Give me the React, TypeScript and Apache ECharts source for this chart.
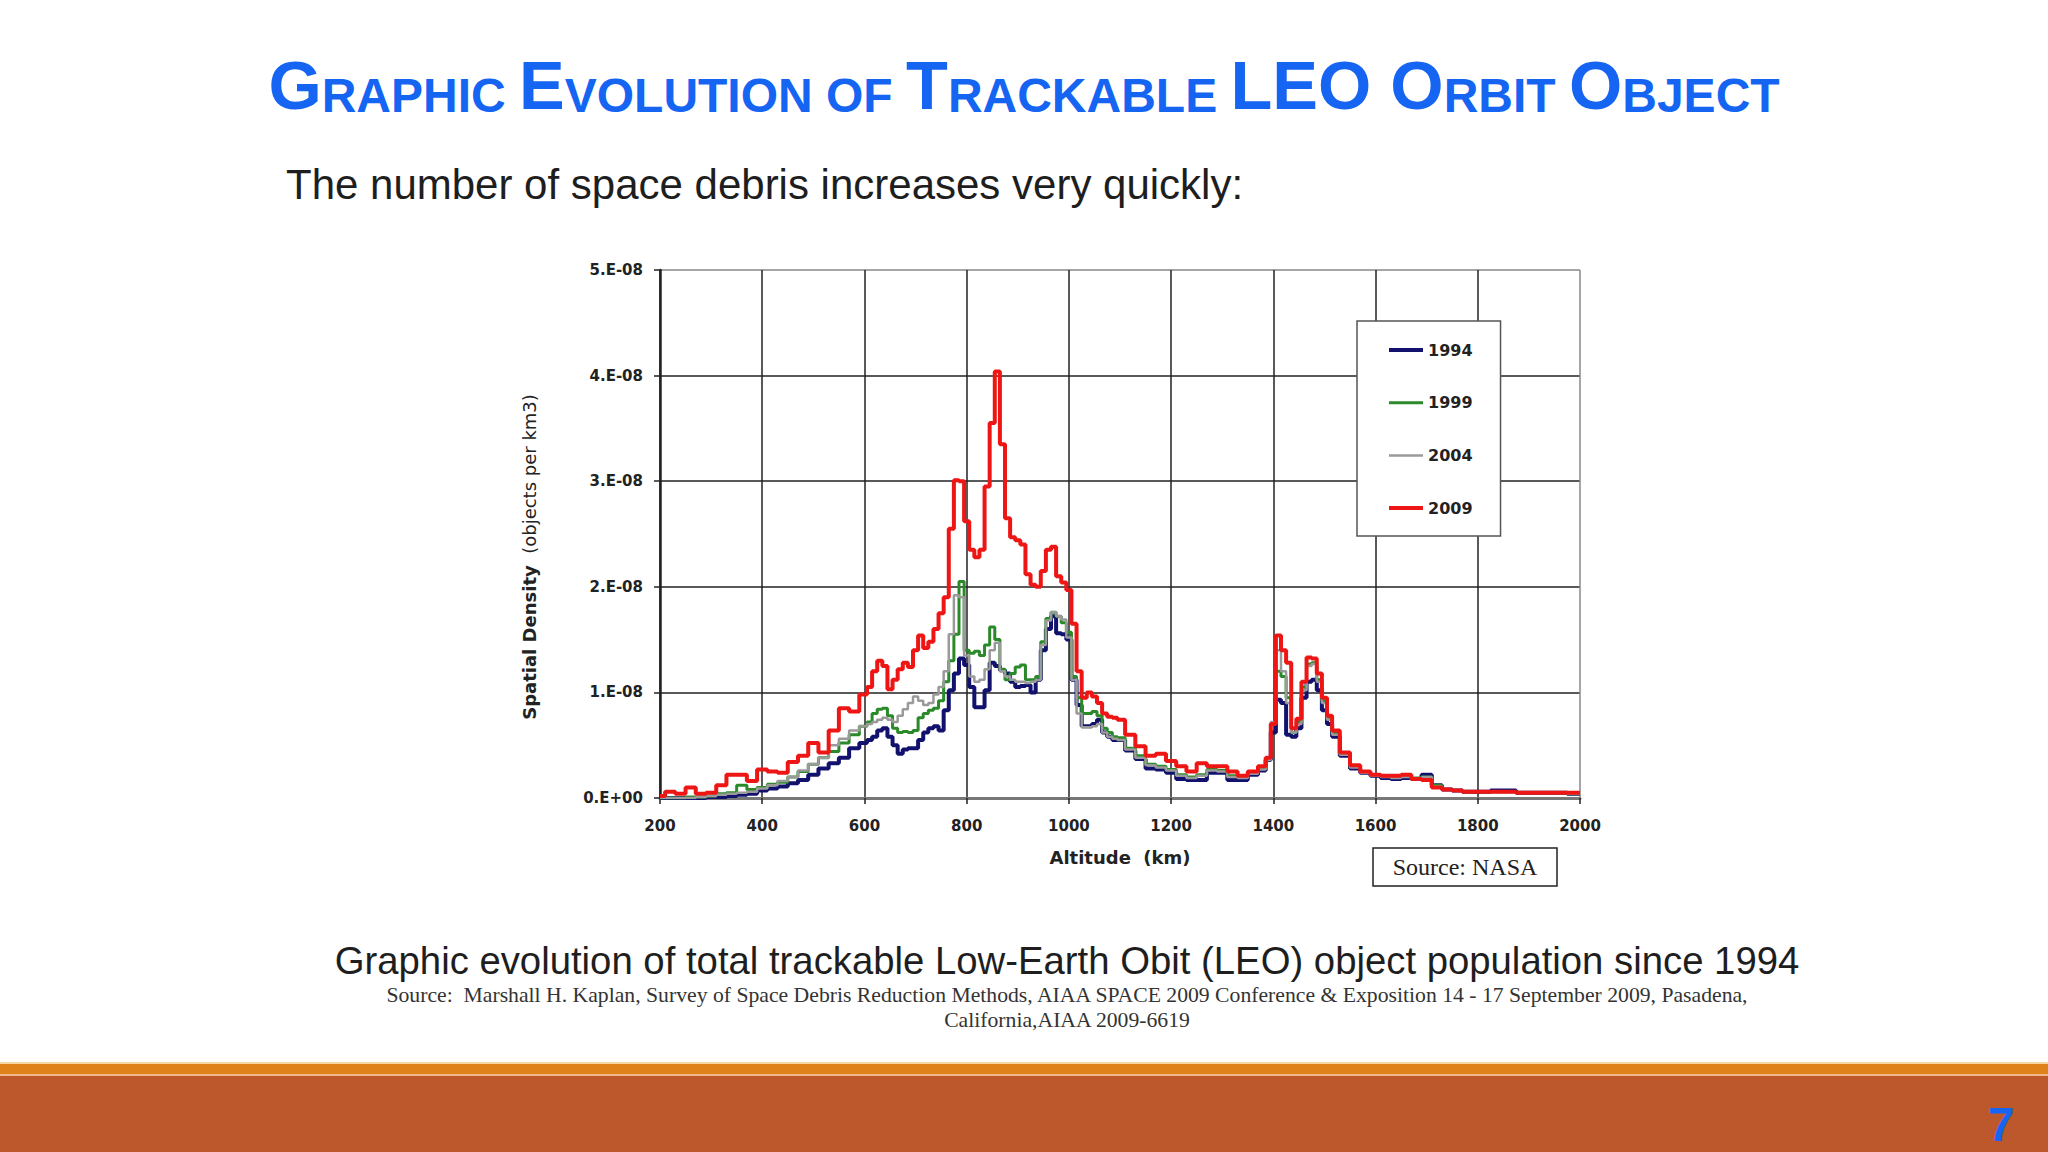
import React, { useEffect, useRef } from 'react';
import * as echarts from 'echarts';

// Altitude sample points (km)
const altitudes = [
  200, 220, 240, 260, 280, 300, 320, 340, 360, 380, 400, 420, 440, 460, 480, 500, 520, 540, 560, 580, 600,
  610, 620, 630, 640, 650, 660, 670, 680, 690, 700, 710, 720, 730, 740, 750, 760, 770, 780, 790, 800,
  810, 820, 830, 840, 850, 860, 870, 880, 890, 900, 910, 920, 930, 940, 950, 960, 970, 980, 990, 1000,
  1010, 1020, 1030, 1040, 1050, 1060, 1070, 1080, 1090, 1100,
  1120, 1140, 1160, 1180, 1200, 1220, 1240, 1260, 1280, 1300, 1320, 1340, 1360, 1380,
  1390, 1400, 1410, 1420, 1430, 1440, 1450, 1460, 1470, 1480, 1490, 1500, 1510, 1520,
  1540, 1560, 1580, 1600, 1620, 1640, 1660, 1680, 1700, 1720, 1740, 1760, 1780, 1800,
  1850, 1900, 1950, 2000,
];

// Spatial density, in units of 1.E-08 objects per km3
const density1994 = [
  0.0, 0.0, 0.0, 0.0, 0.0, 0.01, 0.01, 0.02, 0.03, 0.04, 0.07, 0.09, 0.11, 0.14, 0.17, 0.22, 0.28, 0.33, 0.38, 0.47, 0.52,
  0.55, 0.58, 0.64, 0.66, 0.58, 0.5, 0.42, 0.46, 0.47, 0.47, 0.55, 0.62, 0.66, 0.68, 0.64, 0.83, 1.02, 1.18, 1.32, 1.26,
  1.05, 0.86, 0.86, 1.02, 1.28, 1.25, 1.21, 1.18, 1.1, 1.05, 1.06, 1.07, 1.0, 1.12, 1.4, 1.6, 1.72, 1.56, 1.55, 1.5,
  1.12, 0.88, 0.68, 0.68, 0.7, 0.74, 0.62, 0.58, 0.55, 0.55,
  0.45, 0.37, 0.28, 0.27, 0.24, 0.18, 0.17, 0.17, 0.24, 0.24, 0.17, 0.17, 0.22, 0.26,
  0.36, 0.62, 0.93, 0.9, 0.6, 0.58, 0.66, 0.95, 1.1, 1.12, 1.02, 0.83, 0.7, 0.58,
  0.4, 0.28, 0.24, 0.21, 0.19, 0.18, 0.19, 0.18, 0.22, 0.12, 0.08, 0.07, 0.06, 0.06,
  0.07, 0.05, 0.05, 0.04,
];

const density1999 = [
  0.0, 0.0, 0.0, 0.01, 0.01, 0.02, 0.04, 0.05, 0.12, 0.08, 0.1, 0.13, 0.15, 0.2, 0.25, 0.32, 0.38, 0.44, 0.52, 0.6, 0.68,
  0.72, 0.8, 0.84, 0.85, 0.78, 0.66, 0.62, 0.63, 0.62, 0.64, 0.76, 0.8, 0.83, 0.85, 0.92, 1.1, 1.3, 1.55, 2.05, 1.4,
  1.37, 1.39, 1.35, 1.45, 1.62, 1.5, 1.22, 1.12, 1.18, 1.24, 1.26, 1.12, 1.12, 1.15, 1.48, 1.7, 1.76, 1.72, 1.66, 1.57,
  1.15, 0.95, 0.8, 0.8, 0.82, 0.78, 0.66, 0.62, 0.58, 0.57,
  0.47, 0.4, 0.32, 0.3, 0.27, 0.22, 0.2, 0.22, 0.27, 0.26, 0.21, 0.2, 0.24, 0.28,
  0.37, 0.7, 1.2, 1.15, 0.95, 0.62, 0.72, 1.05, 1.27, 1.28, 1.12, 0.92, 0.76, 0.62,
  0.42, 0.3, 0.25, 0.22, 0.21, 0.2, 0.21, 0.19, 0.2, 0.12, 0.08, 0.07, 0.06, 0.06,
  0.06, 0.05, 0.05, 0.04,
];

const density2004 = [
  0.0, 0.0, 0.0, 0.0, 0.01, 0.02, 0.03, 0.04, 0.05, 0.06, 0.09, 0.12, 0.16, 0.2, 0.26, 0.32, 0.38, 0.5, 0.56, 0.64, 0.68,
  0.7, 0.72, 0.74, 0.76, 0.74, 0.72, 0.78, 0.84, 0.9, 0.96, 0.92, 0.88, 0.9, 0.98, 1.05, 1.2, 1.55, 1.92, 1.9, 1.35,
  1.15, 1.1, 1.12, 1.22, 1.4, 1.47, 1.2, 1.15, 1.12, 1.1, 1.1, 1.09, 1.1, 1.12, 1.45, 1.68, 1.76, 1.72, 1.69, 1.52,
  1.12, 0.8, 0.67, 0.67, 0.68, 0.7, 0.62, 0.58, 0.56, 0.55,
  0.46, 0.38, 0.31, 0.29, 0.26, 0.21, 0.19, 0.21, 0.26, 0.25, 0.2, 0.19, 0.23, 0.27,
  0.36, 0.72, 1.4, 1.2, 0.9, 0.62, 0.7, 1.02, 1.25, 1.27, 1.1, 0.9, 0.74, 0.6,
  0.41, 0.29, 0.24, 0.21, 0.2, 0.19, 0.2, 0.18, 0.2, 0.11, 0.08, 0.07, 0.06, 0.06,
  0.06, 0.05, 0.05, 0.04,
];

const density2009 = [
  0.02, 0.06, 0.04, 0.1, 0.04, 0.05, 0.12, 0.22, 0.22, 0.16, 0.27, 0.25, 0.24, 0.34, 0.4, 0.52, 0.43, 0.64, 0.85, 0.82, 0.98,
  1.05, 1.2, 1.3, 1.25, 1.03, 1.12, 1.22, 1.28, 1.24, 1.4, 1.54, 1.42, 1.48, 1.6, 1.75, 1.9, 2.55, 3.01, 3.0, 2.62,
  2.35, 2.28, 2.35, 2.95, 3.55, 4.04, 3.35, 2.65, 2.47, 2.44, 2.4, 2.12, 2.02, 2.0, 2.15, 2.35, 2.38, 2.1, 2.04, 1.97,
  1.65, 1.2, 0.95, 1.0, 0.96, 0.9, 0.8, 0.77, 0.76, 0.74,
  0.6, 0.49, 0.4, 0.42, 0.35, 0.3, 0.25, 0.33, 0.3, 0.3, 0.25, 0.21, 0.25, 0.3,
  0.38, 0.7, 1.54, 1.4, 1.28, 0.66, 0.75, 1.1, 1.33, 1.32, 1.18, 0.95, 0.78, 0.64,
  0.43, 0.31, 0.25, 0.22, 0.21, 0.21, 0.22, 0.18, 0.17, 0.1, 0.08, 0.07, 0.06, 0.06,
  0.06, 0.05, 0.05, 0.05,
];

const years = ['1994', '1999', '2004', '2009'];
const yearDensities = [density1994, density1999, density2004, density2009];
const yearColors = ['#12126e', '#2a8a2a', '#9a9a9a', '#ee1515'];
const yearWidths = [4, 3, 2.5, 4];

const yTickLabels = ['0.E+00', '1.E-08', '2.E-08', '3.E-08', '4.E-08', '5.E-08'];
const UNIT = 1e-8;

const BLUE = '#1565f2';
const LABEL_FONT = 'DejaVu Sans';

export default function App() {
  const ref = useRef<HTMLDivElement>(null);

  useEffect(() => {
    if (!ref.current) return;
    const chart = echarts.init(ref.current, undefined, { renderer: 'svg' });

    const series = years.map((year, k) => ({
      name: year,
      type: 'line',
      step: 'middle',
      symbol: 'none',
      showSymbol: false,
      z: 2 + k,
      data: altitudes.map((a, i) => [a, yearDensities[k][i] * UNIT]),
      lineStyle: { color: yearColors[k], width: yearWidths[k] },
      itemStyle: { color: yearColors[k] },
      emphasis: { disabled: true },
    }));

    const titleText =
      '{b|G}{s|RAPHIC }{b|E}{s|VOLUTION OF }{b|T}{s|RACKABLE }{b|LEO }{b|O}{s|RBIT }{b|O}{s|BJECT}';

    chart.setOption({
      animation: false,
      backgroundColor: '#ffffff',
      textStyle: { fontFamily: LABEL_FONT },
      grid: { left: 660, top: 270, width: 920, height: 528 },
      legend: {
        orient: 'vertical',
        left: 1357,
        top: 321,
        padding: [21, 28, 20, 30],
        itemWidth: 34,
        itemHeight: 14,
        itemGap: 36.7,
        borderColor: '#555',
        borderWidth: 1.5,
        backgroundColor: '#ffffff',
        selectedMode: false,
        data: years,
        itemStyle: { opacity: 0, borderWidth: 0 },
        lineStyle: { width: 'inherit' },
        textStyle: { fontFamily: LABEL_FONT, fontWeight: 'bold', fontSize: 16, color: '#222' },
      },
      xAxis: {
        type: 'value',
        min: 200,
        max: 2000,
        interval: 200,
        axisLine: { show: true, lineStyle: { color: '#777', width: 3 } },
        axisTick: { show: true, length: 6, lineStyle: { color: '#222', width: 1.5 } },
        axisLabel: {
          margin: 20,
          fontFamily: LABEL_FONT,
          fontWeight: 'bold',
          fontSize: 15,
          color: '#222',
          formatter: (v: number) => String(v),
        },
        splitLine: {
          show: true,
          lineStyle: {
            color: ['#222', '#222', '#222', '#222', '#222', '#222', '#222', '#222', '#222', '#888'],
            width: 1.5,
          },
        },
      },
      yAxis: {
        type: 'value',
        min: 0,
        max: 5 * UNIT,
        interval: UNIT,
        axisLine: { show: true, lineStyle: { color: '#222', width: 2.5 } },
        axisTick: { show: true, length: 6, lineStyle: { color: '#222', width: 1.5 } },
        axisLabel: {
          margin: 17,
          fontFamily: LABEL_FONT,
          fontWeight: 'bold',
          fontSize: 15,
          color: '#222',
          formatter: (_v: number, idx: number) => yTickLabels[idx],
        },
        splitLine: {
          show: true,
          lineStyle: { color: ['#777', '#222', '#222', '#222', '#222', '#888'], width: 1.5 },
        },
      },
      series,
      graphic: [
        // footer bands
        { type: 'rect', silent: true, shape: { x: 0, y: 1062, width: 2048, height: 2 }, style: { fill: '#f7d6a6' } },
        { type: 'rect', silent: true, shape: { x: 0, y: 1064, width: 2048, height: 10 }, style: { fill: '#e0821b' } },
        { type: 'rect', silent: true, shape: { x: 0, y: 1074, width: 2048, height: 2 }, style: { fill: '#f0b98a' } },
        { type: 'rect', silent: true, shape: { x: 0, y: 1076, width: 2048, height: 76 }, style: { fill: '#bd582c' } },
        // title
        {
          type: 'text',
          x: 1024,
          y: 51,
          style: {
            text: titleText,
            textAlign: 'center',
            textVerticalAlign: 'top',
            fill: BLUE,
            rich: {
              b: {
                fontSize: 68.5,
                fontWeight: 'bold',
                fontFamily: 'Liberation Sans',
                fill: BLUE,
                lineHeight: 68.5,
                verticalAlign: 'bottom',
              },
              s: {
                fontSize: 48,
                fontWeight: 'bold',
                fontFamily: 'Liberation Sans',
                fill: BLUE,
                lineHeight: 54.3,
                verticalAlign: 'bottom',
              },
            },
          },
        },
        // subtitle
        {
          type: 'text',
          x: 286,
          y: 184,
          style: {
            text: 'The number of space debris increases very quickly:',
            font: '42px "Liberation Sans"',
            fill: '#1e1e1e',
            textAlign: 'left',
            textVerticalAlign: 'middle',
          },
        },
        // y-axis name
        {
          type: 'text',
          x: 529,
          y: 557,
          rotation: Math.PI / 2,
          style: {
            text: '{b|Spatial Density}{r|  (objects per km3)}',
            textAlign: 'center',
            textVerticalAlign: 'middle',
            rich: {
              b: { fontSize: 18, fontWeight: 'bold', fontFamily: LABEL_FONT, fill: '#222' },
              r: { fontSize: 18, fontWeight: 'normal', fontFamily: LABEL_FONT, fill: '#222' },
            },
          },
        },
        // x-axis name
        {
          type: 'text',
          x: 1120,
          y: 857,
          style: {
            text: 'Altitude  (km)',
            font: 'bold 18px "DejaVu Sans"',
            fill: '#222',
            textAlign: 'center',
            textVerticalAlign: 'middle',
          },
        },
        // source box
        {
          type: 'rect',
          shape: { x: 1373, y: 848, width: 184, height: 38 },
          style: { fill: '#ffffff', stroke: '#222', lineWidth: 1.5 },
        },
        {
          type: 'text',
          x: 1465,
          y: 867,
          style: {
            text: 'Source: NASA',
            font: '24px "Liberation Serif"',
            fill: '#222',
            textAlign: 'center',
            textVerticalAlign: 'middle',
          },
        },
        // caption
        {
          type: 'text',
          x: 1067,
          y: 960,
          style: {
            text: 'Graphic evolution of total trackable Low-Earth Obit (LEO) object population since 1994',
            font: '38.3px "Liberation Sans"',
            fill: '#1e1e1e',
            textAlign: 'center',
            textVerticalAlign: 'middle',
          },
        },
        {
          type: 'text',
          x: 1067,
          y: 995,
          style: {
            text: 'Source:  Marshall H. Kaplan, Survey of Space Debris Reduction Methods, AIAA SPACE 2009 Conference & Exposition 14 - 17 September 2009, Pasadena,',
            font: '21.7px "Liberation Serif"',
            fill: '#333',
            textAlign: 'center',
            textVerticalAlign: 'middle',
          },
        },
        {
          type: 'text',
          x: 1067,
          y: 1020,
          style: {
            text: 'California,AIAA 2009-6619',
            font: '21.7px "Liberation Serif"',
            fill: '#333',
            textAlign: 'center',
            textVerticalAlign: 'middle',
          },
        },
        // page number
        {
          type: 'text',
          x: 2001,
          y: 1124,
          style: {
            text: '7',
            font: 'bold 48px "Liberation Sans"',
            fill: BLUE,
            textAlign: 'center',
            textVerticalAlign: 'middle',
          },
        },
      ],
    });

    return () => chart.dispose();
  }, []);

  return (
    <div
      ref={ref}
      style={{ position: 'fixed', left: 0, top: 0, width: 2048, height: 1152 }}
    />
  );
}
